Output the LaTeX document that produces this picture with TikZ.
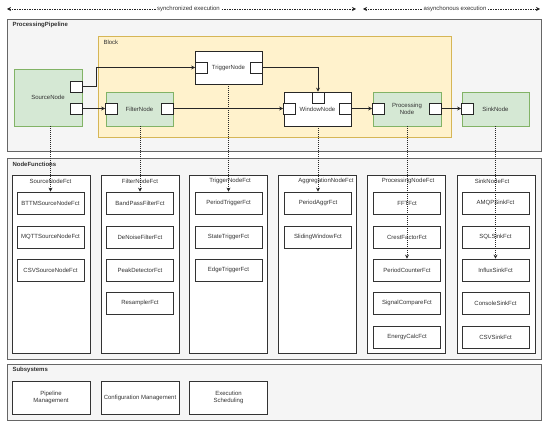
\documentclass[tikz,border=0pt]{standalone}
\usepackage{fontspec}
\setmainfont{Liberation Sans}
\usetikzlibrary{arrows.meta}
\definecolor{framegray}{HTML}{666666}
\definecolor{framefill}{HTML}{F5F5F5}
\definecolor{blockfill}{HTML}{FFF2CC}
\definecolor{blockdraw}{HTML}{D6B656}
\definecolor{greenfill}{HTML}{D5E8D4}
\definecolor{greendraw}{HTML}{82B366}
\definecolor{textgray}{HTML}{333333}
\begin{document}
\begin{tikzpicture}[x=1pt, y=-1pt, font=\fontsize{6}{7}\selectfont, text=textgray,
    frame/.style={draw=framegray, fill=framefill, line width=0.8pt, inner sep=0pt},
    title/.style={anchor=west, font=\fontsize{6}{7}\selectfont\bfseries},
    pnode/.style={draw=greendraw, fill=greenfill, line width=0.8pt, minimum width=67pt, minimum height=34pt, align=center, inner sep=0pt},
    wnode/.style={draw=black!85, fill=white, line width=0.8pt, minimum width=67pt, minimum height=34pt, inner sep=0pt},
    port/.style={draw=black!85, fill=white, line width=0.7pt, minimum width=12pt, minimum height=11pt, inner sep=0pt},
    fctcol/.style={draw=black!80, fill=white, line width=0.7pt, minimum width=78pt, minimum height=178pt, inner sep=0pt},
    fctbox/.style={draw=black!80, fill=white, line width=0.7pt, minimum width=67pt, minimum height=22pt, inner sep=1pt},
    subbox/.style={draw=black!80, fill=white, line width=0.7pt, minimum width=78pt, minimum height=33pt, inner sep=1pt, align=center},
    flow/.style={draw=black!85, line width=0.7pt, -{Stealth[length=4pt,width=4pt]}},
    link/.style={draw=black!85, line width=0.9pt, dash pattern=on 1pt off 1pt, -{Stealth[length=4pt,width=4pt]}},
    span/.style={draw=black!85, line width=0.6pt, dash pattern=on 1.5pt off 1pt, {Stealth[length=4pt,width=4pt]}-{Stealth[length=4pt,width=4pt]}}]
    \useasboundingbox (0,0) rectangle (550,428);
    % Draw execution spans
    \coordinate (syncL) at (7,9);
    \coordinate (syncR) at (356,9);
    \coordinate (asyncL) at (363,9);
    \coordinate (asyncR) at (540,9);
    \draw[span] (syncL) -- (syncR) node[pos=0.52, fill=white, inner sep=1pt] (syncLbl) {synchronized execution};
    \draw[span] (asyncL) -- (asyncR) node[pos=0.52, fill=white, inner sep=1pt] (asyncLbl) {asynchonous execution};
    % Draw pipeline
    \node[frame, minimum width=534pt, minimum height=132pt] (pipeline) at (274,85) {};
    \node[title] (pipeTitle) at (9,25) {ProcessingPipeline};
    \node[draw=blockdraw, fill=blockfill, line width=0.8pt, minimum width=353pt, minimum height=101pt, inner sep=0pt] (block) at (274.5,86.5) {};
    \node[anchor=west] (blockLbl) at (100,42) {Block};
    % Draw pipeline nodes
    \node[pnode, minimum width=68pt, minimum height=57pt] (source) at (48,97.5) {SourceNode};
    \node[pnode] (filter) at (139.5,109) {FilterNode};
    \node[wnode, minimum height=33pt] (trigger) at (228.5,67.5) {TriggerNode};
    \node[wnode] (window) at (317.5,109) {WindowNode};
    \node[pnode, minimum width=68pt] (processing) at (407,109) {Processing\\Node};
    \node[pnode] (sink) at (495.5,109) {SinkNode};
    % Draw ports
    \node[port] (srcA) at (76,86.5) {};
    \node[port] (srcB) at (76,108.5) {};
    \node[port] (filIn) at (111.5,108.5) {};
    \node[port] (filOut) at (167.5,108.5) {};
    \node[port] (trigIn) at (201.5,67.5) {};
    \node[port] (trigOut) at (256.5,67.5) {};
    \node[port] (winIn) at (289.5,108.5) {};
    \node[port] (winTop) at (318,97.5) {};
    \node[port] (winOut) at (345.5,108.5) {};
    \node[port] (procIn) at (378.5,108.5) {};
    \node[port] (procOut) at (435.5,108.5) {};
    \node[port] (sinkIn) at (467.5,108.5) {};
    % Draw data flow
    \draw[flow] (srcA.east) -- ++(14,0) |- (trigIn.west);
    \draw[flow] (srcB.east) -- (filIn.west);
    \draw[flow] (filOut.east) -- (winIn.west);
    \draw[flow] (trigOut.east) -| (winTop.north);
    \draw[flow] (winOut.east) -- (procIn.west);
    \draw[flow] (procOut.east) -- (sinkIn.west);
    % Draw node functions
    \node[frame, minimum width=534pt, minimum height=201pt] (functions) at (274,258.5) {};
    \node[title] (fctTitle) at (9,164.5) {NodeFunctions};
    \node[fctcol] (srcCol) at (51,264) {};
    \node[fctcol] (filCol) at (140,264) {};
    \node[fctcol] (trigCol) at (228.5,264) {};
    \node[fctcol] (aggrCol) at (317.5,264) {};
    \node[fctcol] (procCol) at (406.5,264) {};
    \node[fctcol] (sinkCol) at (496,264) {};
    \node (srcColLbl) at (50.5,181) {SourceNodeFct};
    \node (filColLbl) at (140,181) {FilterNodeFct};
    \node (trigColLbl) at (230,181) {TriggerNodeFct};
    \node (aggrColLbl) at (326,181) {AggregationNodeFct};
    \node (procColLbl) at (408,181) {ProcessingNodeFct};
    \node (sinkColLbl) at (492,181) {SinkNodeFct};
    % Source functions
    \node[fctbox] (bttm) at (50.5,203) {BTTMSourceNodeFct};
    \node[fctbox] (mqtt) at (50.5,237) {MQTTSourceNodeFct};
    \node[fctbox] (csvSrc) at (50.5,270) {CSVSourceNodeFct};
    % Filter functions
    \node[fctbox] (bandPass) at (140,203) {BandPassFilterFct};
    \node[fctbox] (deNoise) at (140,237) {DeNoiseFilterFct};
    \node[fctbox] (peak) at (140,270) {PeakDetectorFct};
    \node[fctbox] (resampler) at (140,303) {ResamplerFct};
    % Trigger functions
    \node[fctbox] (periodTrig) at (228.5,203) {PeriodTriggerFct};
    \node[fctbox] (stateTrig) at (228.5,237) {StateTriggerFct};
    \node[fctbox] (edgeTrig) at (228.5,270) {EdgeTriggerFct};
    % Aggregation functions
    \node[fctbox] (periodAggr) at (318,203) {PeriodAggrFct};
    \node[fctbox] (sliding) at (318,237) {SlidingWindowFct};
    % Processing functions
    \node[fctbox] (fft) at (407,203) {FFTFct};
    \node[fctbox] (crest) at (407,237) {CrestFactorFct};
    \node[fctbox] (periodCnt) at (407,270) {PeriodCounterFct};
    \node[fctbox] (sigCmp) at (407,303) {SignalCompareFct};
    \node[fctbox] (energy) at (407,337) {EnergyCalcFct};
    % Sink functions
    \node[fctbox] (amqp) at (495.5,203) {AMQPSinkFct};
    \node[fctbox] (sql) at (495.5,237) {SQLSinkFct};
    \node[fctbox] (influx) at (495.5,270) {InfluxSinkFct};
    \node[fctbox] (console) at (495.5,303) {ConsoleSinkFct};
    \node[fctbox] (csvSink) at (495.5,337) {CSVSinkFct};
    % Draw subsystems
    \node[frame, minimum width=534pt, minimum height=56pt] (subsystems) at (274,392) {};
    \node[title] (subTitle) at (9,370) {Subsystems};
    \node[subbox] (pipeMgmt) at (51,397.5) {Pipeline\\Management};
    \node[subbox] (confMgmt) at (140,397.5) {Configuration Management};
    \node[subbox] (execSched) at (228.5,397.5) {Execution\\Scheduling};
    % Draw function links
    \draw[link] (bttm.north |- source.south) -- (bttm.north);
    \draw[link] (bandPass.north |- filter.south) -- (bandPass.north);
    \draw[link] (periodTrig.north |- trigger.south) -- (periodTrig.north);
    \draw[link] (periodAggr.north |- window.south) -- (periodAggr.north);
    \draw[link] (periodCnt.north |- processing.south) -- (periodCnt.north);
    \draw[link] (influx.north |- sink.south) -- (influx.north);
\end{tikzpicture}
\end{document}
